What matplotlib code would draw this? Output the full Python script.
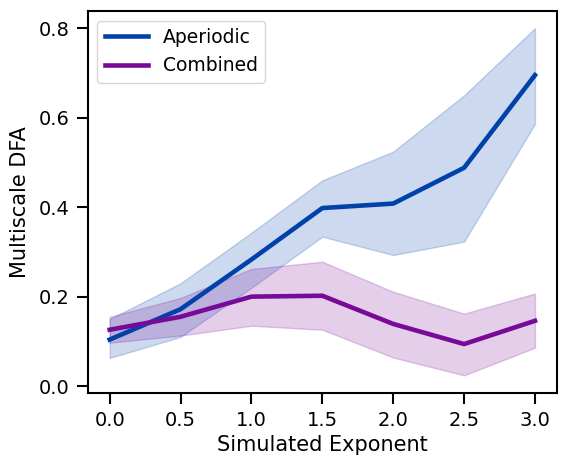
import matplotlib
matplotlib.use("Agg")
import matplotlib.pyplot as plt

exponents = [0.0, 0.5, 1.0, 1.5, 2.0, 2.5, 3.0]

aperiodic_mean = [0.104, 0.172, 0.283, 0.398, 0.408, 0.488, 0.695]
aperiodic_low = [0.063, 0.110, 0.220, 0.334, 0.293, 0.323, 0.586]
aperiodic_high = [0.150, 0.230, 0.343, 0.460, 0.524, 0.650, 0.800]

combined_mean = [0.126, 0.155, 0.200, 0.202, 0.139, 0.094, 0.146]
combined_low = [0.097, 0.113, 0.135, 0.126, 0.064, 0.024, 0.086]
combined_high = [0.155, 0.197, 0.262, 0.278, 0.211, 0.162, 0.207]

blue = "#0042aa"
purple = "#780a98"

fig = plt.figure(figsize=(5.66, 4.66), dpi=100)
ax = fig.add_axes([0.155, 0.157, 0.829, 0.819])

# shaded intervals first, lines on top
ax.fill_between(exponents, aperiodic_low, aperiodic_high, color=blue, alpha=0.2)
ax.fill_between(exponents, combined_low, combined_high, color=purple, alpha=0.2)
ax.plot(exponents, aperiodic_mean, color=blue, lw=3.3, label="Aperiodic")
ax.plot(exponents, combined_mean, color=purple, lw=3.3, label="Combined")

ax.set_xticks(exponents)
ax.set_yticks([0.0, 0.2, 0.4, 0.6, 0.8])
ax.set_xlim(-0.155, 3.155)
ax.set_ylim(-0.015, 0.838)
ax.tick_params(labelsize=14, length=8, width=1.5, pad=5)
for s in ax.spines.values():
    s.set_linewidth(1.5)

ax.set_xlabel("Simulated Exponent", fontsize=15, labelpad=4)
ax.set_ylabel("Multiscale DFA", fontsize=15, labelpad=6)
ax.legend(loc="upper left", fontsize=13.5, handlelength=2.3)

fig.savefig("out.png", dpi=100)
